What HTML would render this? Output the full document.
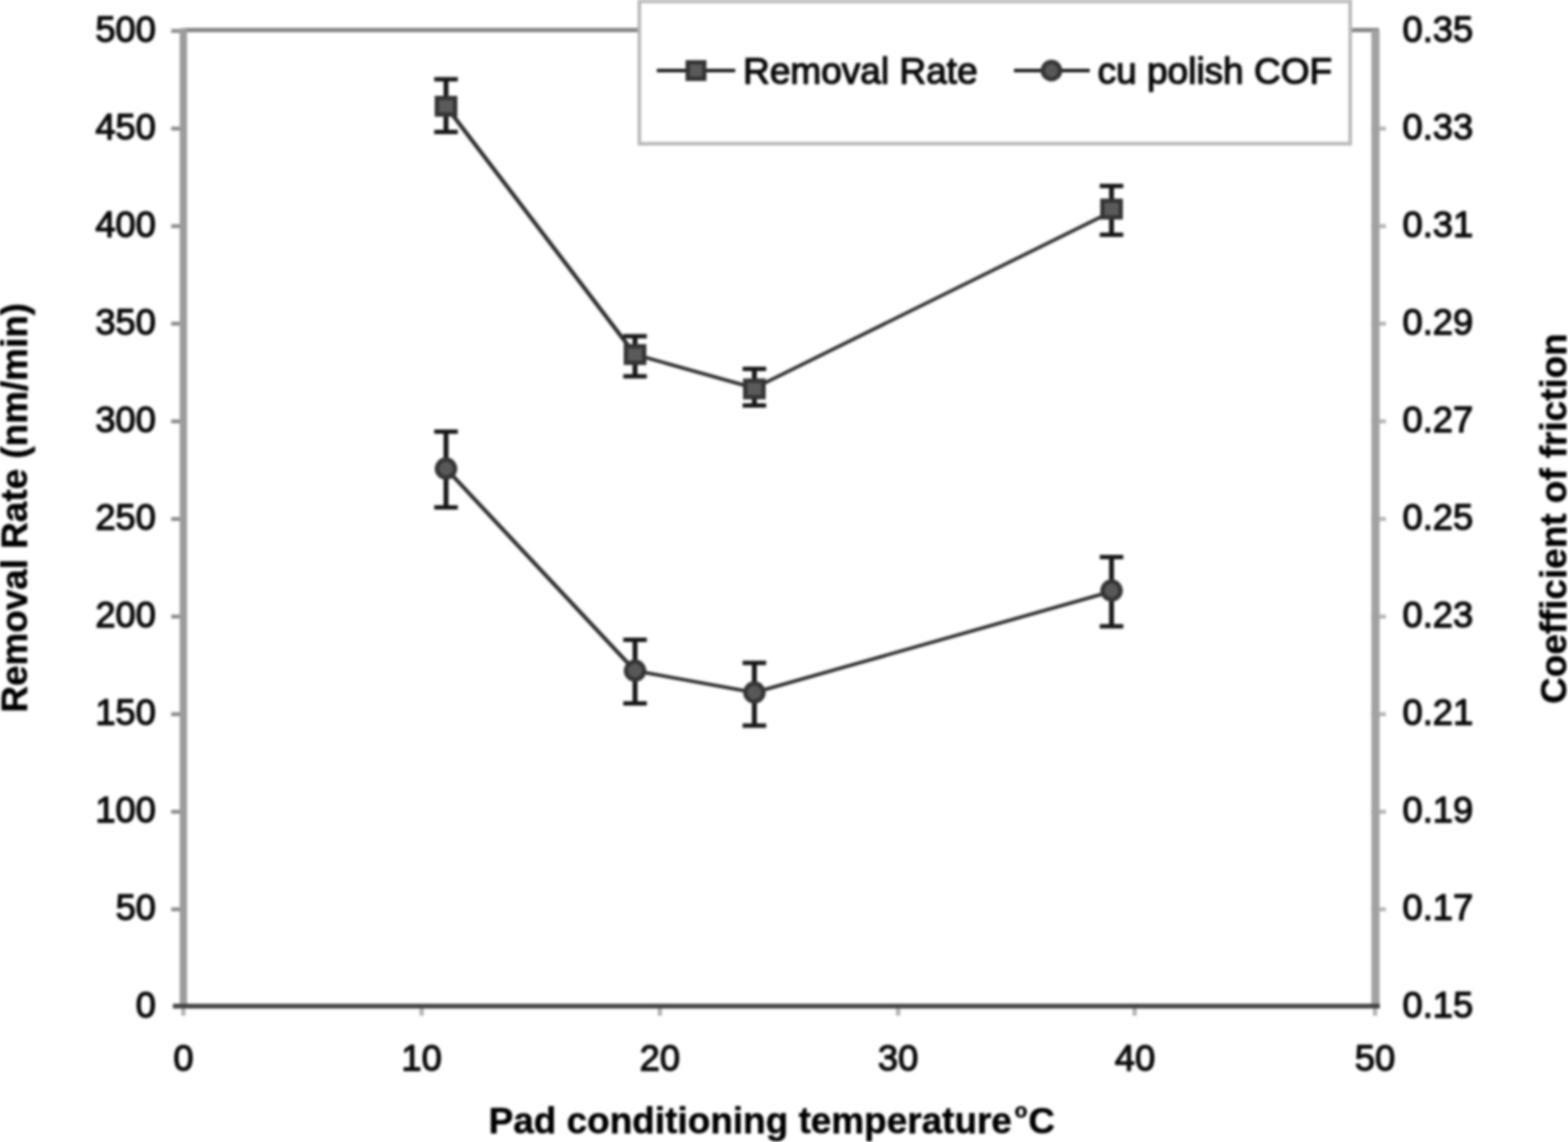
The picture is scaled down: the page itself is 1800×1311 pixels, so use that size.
<!DOCTYPE html>
<html lang="en">
<head>
<meta charset="utf-8">
<title>Removal Rate and COF vs pad conditioning temperature</title>
<style>
html,body{margin:0;padding:0;background:#fff;}
body{width:1800px;height:1311px;overflow:hidden;}
svg{display:block;}
text{font-family:"Liberation Sans",Arial,Helvetica,sans-serif;fill:#0a0a0a;stroke:#0a0a0a;stroke-width:1.45px;stroke-linejoin:round;}
.tick{font-size:41.7px;}
.ttl{font-size:42.3px;font-weight:bold;fill:#000;stroke:#000;stroke-width:0.5px;}
</style>
</head>
<body>
<svg width="1800" height="1311" viewBox="0 0 1800 1311">
<defs>
<filter id="b" x="-5%" y="-5%" width="110%" height="110%" color-interpolation-filters="sRGB"><feGaussianBlur stdDeviation="1.85"/></filter>
<filter id="t" x="-5%" y="-5%" width="110%" height="110%" color-interpolation-filters="sRGB"><feGaussianBlur stdDeviation="1.75"/></filter>
</defs>
<rect x="0" y="0" width="1800" height="1311" fill="#fff"/>
<g filter="url(#b)">

<g fill="none" stroke-linecap="butt">
<path d="M196.5 35.5 H210.5" stroke="#8c8c8c" stroke-width="4.5"/>
<path d="M196.5 147.6 H210.5" stroke="#8c8c8c" stroke-width="4.5"/>
<path d="M196.5 259.6 H210.5" stroke="#8c8c8c" stroke-width="4.5"/>
<path d="M196.5 371.6 H210.5" stroke="#8c8c8c" stroke-width="4.5"/>
<path d="M196.5 483.7 H210.5" stroke="#8c8c8c" stroke-width="4.5"/>
<path d="M196.5 595.8 H210.5" stroke="#8c8c8c" stroke-width="4.5"/>
<path d="M196.5 707.8 H210.5" stroke="#8c8c8c" stroke-width="4.5"/>
<path d="M196.5 819.9 H210.5" stroke="#8c8c8c" stroke-width="4.5"/>
<path d="M196.5 931.9 H210.5" stroke="#8c8c8c" stroke-width="4.5"/>
<path d="M196.5 1043.9 H210.5" stroke="#8c8c8c" stroke-width="4.5"/>
<path d="M1574 147.6 H1591" stroke="#b4b4b4" stroke-width="4.5"/>
<path d="M1574 259.6 H1591" stroke="#b4b4b4" stroke-width="4.5"/>
<path d="M1574 371.6 H1591" stroke="#b4b4b4" stroke-width="4.5"/>
<path d="M1574 483.7 H1591" stroke="#b4b4b4" stroke-width="4.5"/>
<path d="M1574 595.8 H1591" stroke="#b4b4b4" stroke-width="4.5"/>
<path d="M1574 707.8 H1591" stroke="#b4b4b4" stroke-width="4.5"/>
<path d="M1574 819.9 H1591" stroke="#b4b4b4" stroke-width="4.5"/>
<path d="M1574 931.9 H1591" stroke="#b4b4b4" stroke-width="4.5"/>
<path d="M1574 1043.9 H1591" stroke="#b4b4b4" stroke-width="4.5"/>
<path d="M210.5 1155 V1166" stroke="#b4b4b4" stroke-width="5"/>
<path d="M484 1155 V1166" stroke="#b4b4b4" stroke-width="5"/>
<path d="M757.5 1155 V1166" stroke="#b4b4b4" stroke-width="5"/>
<path d="M1031 1155 V1166" stroke="#b4b4b4" stroke-width="5"/>
<path d="M1302.5 1155 V1166" stroke="#b4b4b4" stroke-width="5"/>
<path d="M1578.5 1155 V1166" stroke="#b4b4b4" stroke-width="5"/>
<path d="M210.5 34.5 H1583" stroke="#868686" stroke-width="4.8"/>
<path d="M1579 34.5 V1155" stroke="#a2a2a2" stroke-width="9.5"/>
<path d="M210.5 32.5 V1155" stroke="#9c9c9c" stroke-width="8.5"/>
<path d="M198.5 1155 H1584" stroke="#444" stroke-width="5.5"/>
</g>
<rect x="734" y="1.5" width="816" height="163.5" fill="#fff" stroke="#bababa" stroke-width="4.2"/>
<path d="M754 81 H844" stroke="#181818" stroke-width="4" fill="none"/>
<rect x="789.5" y="71.5" width="19" height="19" fill="#5a5a5a" stroke="#343434" stroke-width="5"/>
<path d="M1164 81 H1251" stroke="#181818" stroke-width="4" fill="none"/>
<circle cx="1207" cy="81" r="10" fill="#585858" stroke="#343434" stroke-width="5"/>
<path d="M512 122 L729 407" fill="none" stroke="#2c2c2c" stroke-width="4.6"/>
<path d="M729 407 L866 445.5 L1276 243" fill="none" stroke="#2c2c2c" stroke-width="4" stroke-linejoin="round"/>
<path d="M512 538 L729 770" fill="none" stroke="#2c2c2c" stroke-width="4.6"/>
<path d="M729 770 L866 795 L1276 679" fill="none" stroke="#2c2c2c" stroke-width="4" stroke-linejoin="round"/>
<path d="M512 91 V151.5 M729 386 V432 M866 423.5 V465.5 M1276 213.5 V269.5 M512 495.5 V582.5 M729 734.5 V807.5 M866 761 V833 M1276 639.5 V719" fill="none" stroke="#161616" stroke-width="5.6"/>
<path d="M498.5 91 H525.5 M498.5 151.5 H525.5 M715.5 386 H742.5 M715.5 432 H742.5 M852.5 423.5 H879.5 M852.5 465.5 H879.5 M1262.5 213.5 H1289.5 M1262.5 269.5 H1289.5 M498.5 495.5 H525.5 M498.5 582.5 H525.5 M715.5 734.5 H742.5 M715.5 807.5 H742.5 M852.5 761 H879.5 M852.5 833 H879.5 M1262.5 639.5 H1289.5 M1262.5 719 H1289.5" fill="none" stroke="#161616" stroke-width="4.8"/>
<rect x="501.5" y="112.5" width="21" height="19" fill="#5a5a5a" stroke="#343434" stroke-width="5"/>
<rect x="718.5" y="397.5" width="21" height="19" fill="#5a5a5a" stroke="#343434" stroke-width="5"/>
<rect x="855.5" y="437" width="21" height="19" fill="#5a5a5a" stroke="#343434" stroke-width="5"/>
<rect x="1265.5" y="230.5" width="21" height="19" fill="#5a5a5a" stroke="#343434" stroke-width="5"/>
<circle cx="512" cy="538" r="10.4" fill="#585858" stroke="#343434" stroke-width="5"/>
<circle cx="729" cy="770" r="10.4" fill="#585858" stroke="#343434" stroke-width="5"/>
<circle cx="866" cy="795" r="10.4" fill="#585858" stroke="#343434" stroke-width="5"/>
<circle cx="1276" cy="678" r="10.4" fill="#585858" stroke="#343434" stroke-width="5"/>
</g>
<g filter="url(#t)">
<text class="tick" x="179" y="47.5" text-anchor="end">500</text>
<text class="tick" x="179" y="159.6" text-anchor="end">450</text>
<text class="tick" x="179" y="271.6" text-anchor="end">400</text>
<text class="tick" x="179" y="383.6" text-anchor="end">350</text>
<text class="tick" x="179" y="495.7" text-anchor="end">300</text>
<text class="tick" x="179" y="607.8" text-anchor="end">250</text>
<text class="tick" x="179" y="719.8" text-anchor="end">200</text>
<text class="tick" x="179" y="831.9" text-anchor="end">150</text>
<text class="tick" x="179" y="943.9" text-anchor="end">100</text>
<text class="tick" x="179" y="1055.9" text-anchor="end">50</text>
<text class="tick" x="179" y="1168" text-anchor="end">0</text>
<text class="tick" x="1610" y="47.5">0.35</text>
<text class="tick" x="1610" y="159.6">0.33</text>
<text class="tick" x="1610" y="271.6">0.31</text>
<text class="tick" x="1610" y="383.6">0.29</text>
<text class="tick" x="1610" y="495.7">0.27</text>
<text class="tick" x="1610" y="607.8">0.25</text>
<text class="tick" x="1610" y="719.8">0.23</text>
<text class="tick" x="1610" y="831.9">0.21</text>
<text class="tick" x="1610" y="943.9">0.19</text>
<text class="tick" x="1610" y="1055.9">0.17</text>
<text class="tick" x="1610" y="1168">0.15</text>
<text class="tick" x="210.5" y="1229.3" text-anchor="middle">0</text>
<text class="tick" x="484" y="1229.3" text-anchor="middle">10</text>
<text class="tick" x="757.5" y="1229.3" text-anchor="middle">20</text>
<text class="tick" x="1031" y="1229.3" text-anchor="middle">30</text>
<text class="tick" x="1303" y="1229.3" text-anchor="middle">40</text>
<text class="tick" x="1578.5" y="1229.3" text-anchor="middle">50</text>
<text class="tick" x="853" y="96" style="font-size:42.5px">Removal Rate</text>
<text class="tick" x="1260" y="96" style="font-size:42.5px">cu polish COF</text>
<text class="ttl" transform="translate(31 818) rotate(-90)">Removal Rate (nm/min)</text>
<text class="ttl" transform="translate(1798 808) rotate(-90)">Coefficient of friction</text>
<text class="ttl" x="561" y="1301" letter-spacing="0.05">Pad conditioning temperature<tspan dx="3" dy="-18" font-size="24">o</tspan><tspan dx="1" dy="18">C</tspan></text>
</g>
</svg>
</body>
</html>
